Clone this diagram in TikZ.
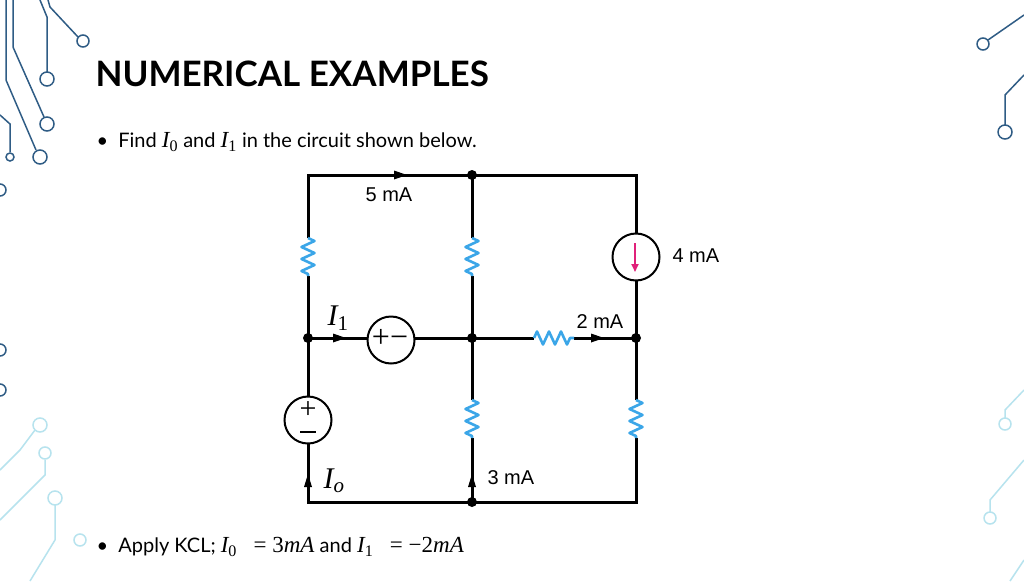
\documentclass[tikz,border=0pt]{standalone}
\usepackage{fontspec}
\setmainfont{Lato}
\newfontfamily\arialf{Liberation Sans}
\newfontfamily\serf{Liberation Serif}
\newcommand{\mfnt}{\serf\fontsize{23}{24}\selectfont}
\newcommand{\vi}[1]{{\mfnt\itshape I\textsubscript{\upshape#1}}}
\usetikzlibrary{decorations.pathmorphing,arrows.meta}
\definecolor{dk}{HTML}{2F5C85}
\definecolor{lt}{HTML}{B7E3EE}
\definecolor{rc}{HTML}{3BA6E8}
\definecolor{pk}{HTML}{E0217A}
\begin{document}
\begin{tikzpicture}[x=1pt,y=-1pt,
  wire/.style={line width=3pt,black},
  res/.style={rc,line width=2.6pt,line join=round,decorate,decoration={zigzag,segment length=12pt,amplitude=6.5pt}},
  src/.style={circle,draw,line width=2pt,minimum size=47pt,inner sep=0pt,fill=white},
  dot/.style={circle,fill=black,inner sep=0pt,minimum size=10pt},
  lab/.style={font=\arialf\fontsize{20}{20}\selectfont},
  tr/.style={dk,line width=1.5pt},
  trl/.style={lt,line width=1.5pt}]
\useasboundingbox (0,0) rectangle (1024,581);
\fill[white] (0,0) rectangle (1024,581);
% decorations
\draw[tr] (13,0)--(13,47)--(44,117); \draw[tr] (47,124) circle (7);
\draw[tr] (6,0)--(6,80)--(36,150); \draw[tr] (40,157) circle (7);
\draw[tr] (40,0)--(47,17)--(47,72); \draw[tr] (47,79) circle (7);
\draw[tr] (48,0)--(50,7)--(78,37); \draw[tr] (83,41) circle (6);
\draw[tr] (0,115)--(10,124)--(10,152); \draw[tr] (10,157) circle (4);
\draw[tr] (0,190) circle (6);
\draw[tr] (1024,15)--(988,40); \draw[tr] (983,44) circle (6);
\draw[tr] (1024,75)--(1005,95)--(1005,125); \draw[tr] (1005,132) circle (7);
\draw[tr] (0,350) circle (6); \draw[tr] (0,390) circle (6);
\draw[trl] (0,470)--(20,450)--(35,430); \draw[trl] (40,425) circle (7);
\draw[trl] (0,520)--(45,475)--(45,460); \draw[trl] (45,453) circle (6);
\draw[trl] (30,581)--(55,540)--(55,505); \draw[trl] (55,498) circle (7);
\draw[trl] (80,540) circle (6);
\draw[trl] (1024,390)--(1005,410)--(1005,418); \draw[trl] (1005,424) circle (6);
\draw[trl] (1024,460)--(990,500)--(990,512); \draw[trl] (990,518) circle (6);
\draw[trl] (1010,581)--(1024,560);
% title text
\node[anchor=west,font=\bfseries\fontsize{35}{35}\selectfont] (t) at (92,74) {NUMERICAL EXAMPLES};
\node[anchor=west,font=\fontsize{20}{22}\selectfont] (b1) at (93,142) {\textbullet\ \ Find \vi{0} and \vi{1} in the circuit shown below.};
\node[anchor=west,font=\fontsize{20}{22}\selectfont] (b2) at (93,547) {\textbullet\ \ Apply KCL; \vi{0} {\mfnt\ \ =\ 3\textit{mA}} and \vi{1} {\mfnt\ \ =\ −2\textit{mA}}};
% circuit
\coordinate (tl) at (308,175); \coordinate (tm) at (472,175); \coordinate (tr) at (636,175);
\coordinate (ml) at (308,338); \coordinate (mm) at (472,338); \coordinate (mr) at (636,338);
\coordinate (bl) at (308,502); \coordinate (bm) at (472,502); \coordinate (br) at (636,502);
\draw[wire] (tl)--(tr)--(br)--(bl)--cycle;
\draw[wire] (tm)--(bm); \draw[wire] (ml)--(mr);
\foreach \a/\b in {308/238,472/238,472/400,636/400}{
  \fill[white] (\a-9,\b) rectangle (\a+9,\b+38);
  \draw[res] (\a,\b)--(\a,\b+38);}
\fill[white] (534,330) rectangle (574,346);
\draw[res] (534,338)--(574,338);
\node[src] (cs) at (636,257) {};
\draw[pk,line width=1.8pt,-{Triangle[length=8pt,width=7pt]}] (635,243)--(635,272);
\node[src] (vs) at (391,340) {};
\node[font=\serf\fontsize{32}{32}\selectfont] at (390,338) {+−};
\node[src] (vl) at (308,420) {};
\node[font=\serf\fontsize{30}{30}\selectfont] at (308,410) {+};
\draw[line width=1.3pt] (300,432)--(316,432);
\foreach \p in {tm,ml,mm,mr,bm} \node[dot] at (\p) {};
\fill (407,175) -- ++(-13,-4.5) -- ++(0,9) -- cycle;
\fill (346,338) -- ++(-13,-4.5) -- ++(0,9) -- cycle;
\fill (604,338) -- ++(-13,-4.5) -- ++(0,9) -- cycle;
\fill (308,474) -- ++(-4,13) -- ++(8,0) -- cycle;
\fill (472,474) -- ++(-4,13) -- ++(8,0) -- cycle;
\node[lab] at (389,195) {5 mA};
\node[lab,anchor=west] at (669,256) {4 mA};
\node[lab] at (600,322) {2 mA};
\node[lab,anchor=west] at (484,478) {3 mA};
\node[font=\serf\fontsize{30}{30}\selectfont] at (338,318) {{\itshape I}\textsubscript{1}};
\node[font=\serf\fontsize{30}{30}\selectfont] at (334,481) {{\itshape I}\textsubscript{\itshape o}};
\end{tikzpicture}
\end{document}
